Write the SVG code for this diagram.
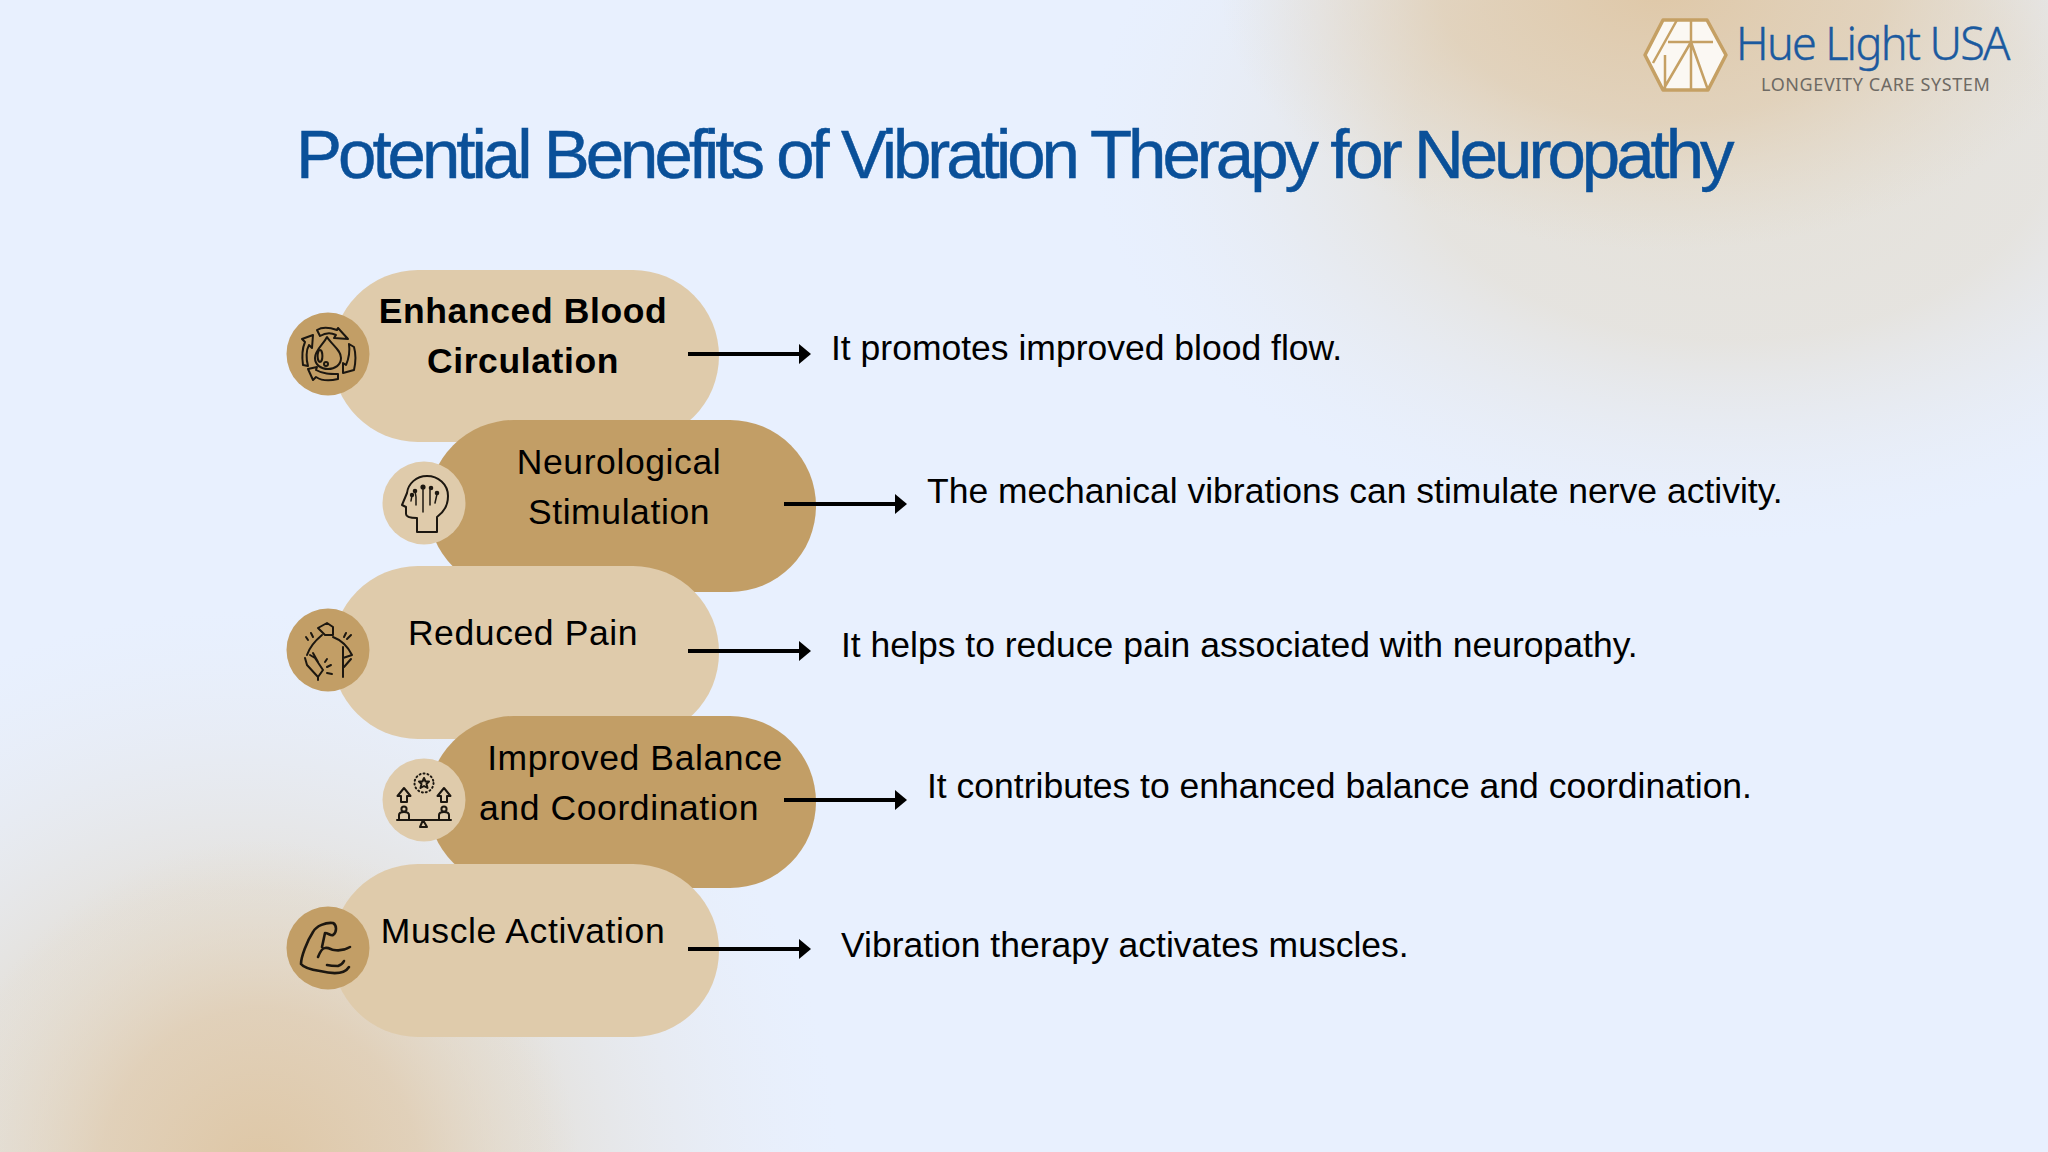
<svg xmlns="http://www.w3.org/2000/svg" width="2048" height="1152" viewBox="0 0 2048 1152">
<defs>
<style>
.t{font-family:"Liberation Sans",Arial,sans-serif;fill:#000;font-size:35.5px}
.c{text-anchor:middle;letter-spacing:.6px}
.i{fill:none;stroke:#1c1710;stroke-width:2;stroke-linecap:round;stroke-linejoin:round}
.light{fill:#dfcbab}.dark{fill:#c29e66}
.a{stroke:#000;stroke-width:4;fill:none}
</style>
<radialGradient id="tr1" gradientUnits="userSpaceOnUse" cx="0" cy="0" r="1" gradientTransform="translate(1730 140) scale(640 400)">
<stop offset="0" stop-color="#e5e1d8"/><stop offset=".5" stop-color="#e5e2dc" stop-opacity=".9"/><stop offset="1" stop-color="#e8ecf4" stop-opacity="0"/></radialGradient>
<radialGradient id="tr2" gradientUnits="userSpaceOnUse" cx="0" cy="0" r="1" gradientTransform="translate(1660 -10) scale(440 260)">
<stop offset="0" stop-color="#dfc8a8"/><stop offset=".5" stop-color="#e0cdb2" stop-opacity=".75"/><stop offset="1" stop-color="#e2d6c4" stop-opacity="0"/></radialGradient>
<radialGradient id="bl1" gradientUnits="userSpaceOnUse" cx="0" cy="0" r="1" gradientTransform="translate(240 1170) scale(600 560)">
<stop offset="0" stop-color="#e4dbcb"/><stop offset=".5" stop-color="#e4e0d9" stop-opacity=".9"/><stop offset="1" stop-color="#e8ecf4" stop-opacity="0"/></radialGradient>
<radialGradient id="bl2" gradientUnits="userSpaceOnUse" cx="0" cy="0" r="1" gradientTransform="translate(260 1180) scale(320 340)">
<stop offset="0" stop-color="#dec6a4"/><stop offset=".5" stop-color="#e0cdb3" stop-opacity=".8"/><stop offset="1" stop-color="#e3dacb" stop-opacity="0"/></radialGradient>
</defs>
<rect width="2048" height="1152" fill="#e8f0fe"/>
<rect width="2048" height="1152" fill="url(#tr1)"/>
<rect width="2048" height="1152" fill="url(#tr2)"/>
<rect width="2048" height="1152" fill="url(#bl1)"/>
<rect width="2048" height="1152" fill="url(#bl2)"/>
<g id="title"><text x="296" y="178" font-family="Liberation Sans,Arial,sans-serif" font-size="69" letter-spacing="-4" fill="#0a5099" stroke="#0a5099" stroke-width=".5">Potential Benefits of Vibration Therapy for Neuropathy</text></g>
<g id="logo">
<path d="M1645 55L1663 20H1707L1726 55L1708 90H1663Z" fill="#fbf8f3" stroke="#c5a064" stroke-width="3.5" stroke-linejoin="round"/>
<path d="M1691 20V42M1668 42H1713M1691 42L1663 90M1691 42V90M1691 42L1708 90M1677 20L1653 63M1665 55V90" fill="none" stroke="#c5a064" stroke-width="2.500"/>
<text x="1736" y="60" font-family="Noto Sans,Open Sans,sans-serif" font-weight="300" font-size="45" letter-spacing="-1.7" fill="#1b5a9f" stroke="#1b5a9f" stroke-width=".4">Hue Light USA</text>
<text x="1761" y="91" font-family="Noto Sans,Open Sans,sans-serif" font-size="18" letter-spacing=".6" fill="#6e6a64">LONGEVITY CARE SYSTEM</text>
</g>
<g id="node-1">
<rect class="light" x="332" y="270" width="387" height="172" rx="86"/>
<circle class="dark" cx="328" cy="354" r="41.500"/>
<g class="i">
<path d="M327 337C323 345 315 350 315 358C315 365 321 369 328 369C335 369 341 365 341 358C341 350 332 345 327 337Z"/>
<ellipse cx="320" cy="356" rx="2.400" ry="6"/><circle cx="326" cy="364" r="2"/>
<path d="M317 330C322 327 328 327 337 330L338 328L348 339L334 338L336 335C330 332 325 333 320 336Z"/>
<path d="M349 344L354 347C356 354 356 361 354 370L343 373L343 363L346 365C349 358 350 351 349 344Z"/>
<path d="M308 369L317 367L316 370C323 374 330 374 338 374L338 379C330 381 322 381 316 377L313 380Z"/>
<path d="M313 335L302 339L305 342C302 349 302 358 303 365L308 366C306 359 306 350 309 345L312 348Z"/>
</g>
<text class="t c" x="523" y="323" font-weight="bold">Enhanced Blood</text>
<text class="t c" x="523" y="373" font-weight="bold">Circulation</text>
</g>
<g id="node-2">
<rect class="dark" x="428" y="420" width="388" height="172" rx="86"/>
<circle class="light" cx="424" cy="503" r="41.500"/>
<g class="i">
<path d="M417 532H437V517C444 512 448 505 448 496C448 484 438 476 427 476C416 476 408 484 407 493L402 505L406 507V514C406 517 409 518 417 518V532"/>
<path d="M416 505V497L415 491M423 512V488M430 505V490M435 503L437 494M411 501L412 495" style="stroke-width:1.5"/>
<circle cx="423" cy="487" r="1.600" fill="#1c1710"/><circle cx="415" cy="491" r="1.300" fill="#1c1710"/><circle cx="431" cy="488" r="1.300" fill="#1c1710"/><circle cx="437" cy="493" r="1.300" fill="#1c1710"/><circle cx="412" cy="495" r="1.200" fill="#1c1710"/>
</g>
<text class="t c" x="619" y="474">Neurological</text>
<text class="t c" x="619" y="524">Stimulation</text>
</g>
<g id="node-3">
<rect class="light" x="332" y="566" width="387" height="173" rx="86"/>
<circle class="dark" cx="328" cy="650" r="41.500"/>
<g class="i">
<path d="M318 628L327 623L333 627L333 635L325 635Z"/>
<path d="M322 635C316 640 310 646 307 655M333 637C341 640 348 647 352 655L343 658M343 647V677M344 667L351 659"/>
<path d="M305 658L307 665L318 677L323 670L315 658L310 655M313 653L318 662M318 677V680"/>
<path d="M306 637L308 640M311 633L313 637M344 637L346 633M347 639L351 635M325 662L327 659M327 667L331 665M327 673L332 674"/>
</g>
<text class="t c" x="523" y="645">Reduced Pain</text>
</g>
<g id="node-4">
<rect class="dark" x="428" y="716" width="388" height="172" rx="86"/>
<circle class="light" cx="424" cy="800" r="41.500"/>
<g class="i">
<path d="M397 820H451M423 820L420 827H427Z"/>
<path d="M399 820V815C399 813 401 812 404 812C407 812 409 813 409 815V820M439 820V815C439 813 441 812 444 812C447 812 449 813 449 815V820"/>
<circle cx="404" cy="809" r="2.600"/><circle cx="444" cy="809" r="2.600"/>
<path d="M401 802V796H397.500L404 788L410.500 796H407V802ZM441 802V796H437.500L444 788L450.500 796H447V802Z"/>
<circle cx="424" cy="783" r="9.500" stroke-dasharray="1 3"/>
<path d="M424 778L425.500 781.500H429L426.500 784L427.500 788L424 786L420.500 788L421.500 784L419 781.500H422.500Z"/>
</g>
<text class="t c" x="635" y="770">Improved Balance</text>
<text class="t c" x="619" y="820">and Coordination</text>
</g>
<g id="node-5">
<rect class="light" x="332" y="864" width="387" height="173" rx="86"/>
<circle class="dark" cx="328" cy="948" r="41.500"/>
<g class="i" style="stroke-width:2.600">
<path d="M349 967C344 975 332 974 320 971C313 970 304 968 301 964C301 957 307 941 313 932C316 926 326 922 333 923C337 925 337 932 333 935C331 936 328 933 325 933L322 947"/>
<path d="M318 957C320 952 322 948 325 948C329 947 331 950 334 950C340 951 345 950 350 947"/>
<path d="M327 965C331 966 335 966 338 966C341 965 343 963 344 961"/>
</g>
<text class="t c" x="523" y="943">Muscle Activation</text>
</g>
<g id="connectors" class="a">
<path d="M688 354H802M784 504H898M688 651H802M784 800H898M688 949H802"/>
<g fill="#000" stroke="none">
<path d="M799 344L811 354L799 364Z"/><path d="M895 494L907 504L895 514Z"/><path d="M799 641L811 651L799 661Z"/><path d="M895 790L907 800L895 810Z"/><path d="M799 939L811 949L799 959Z"/>
</g>
</g>
<g id="descriptions">
<text class="t" x="831" y="360">It promotes improved blood flow.</text>
<text class="t" x="927" y="503">The mechanical vibrations can stimulate nerve activity.</text>
<text class="t" x="841" y="657">It helps to reduce pain associated with neuropathy.</text>
<text class="t" x="927" y="798">It contributes to enhanced balance and coordination.</text>
<text class="t" x="841" y="957">Vibration therapy activates muscles.</text>
</g>
</svg>
